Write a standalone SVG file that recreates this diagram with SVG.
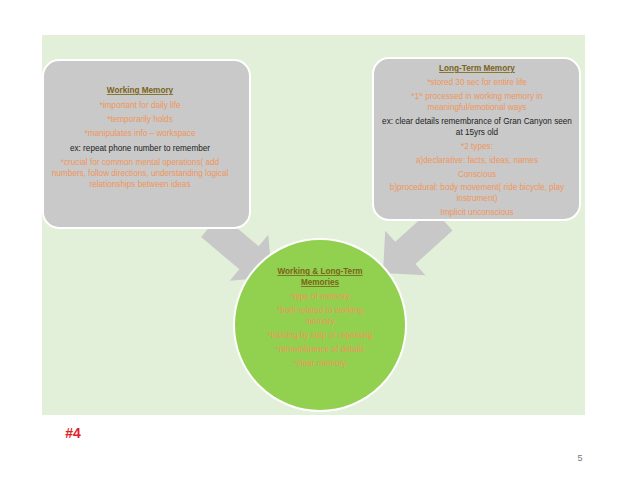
<svg xmlns="http://www.w3.org/2000/svg" width="638" height="478" viewBox="0 0 638 478">
<style>
text{font-family:"Liberation Sans",Arial,sans-serif;font-size:8.2px;text-anchor:middle}
.o{fill:#f0955a}.k{fill:#222}.t{fill:#7a6418;font-weight:bold;text-decoration:underline}
.box{fill:#c9c9c9;stroke:#fff;stroke-width:2}
.arr{fill:#c8c8c8}
</style>
<rect width="638" height="478" fill="#fff"/>
<rect x="42" y="35" width="543" height="380" fill="#e2efd9"/>
<g id="connectors">
<polygon class="arr" transform="translate(272,277) rotate(40)" points="-80,-15 -30,-15 -30,-30 0,0 -30,30 -30,15 -80,15"/>
<polygon class="arr" transform="translate(383,273) rotate(138)" points="-80,-15 -30,-15 -30,-30 0,0 -30,30 -30,15 -80,15"/>
</g>
<g id="working">
<rect class="box" x="43" y="60" width="207" height="168" rx="16"/>
<text class="t" x="140" y="93">Working Memory</text>
<text class="o" x="140" y="108">*important for daily life</text>
<text class="o" x="140" y="122">*temporarily holds</text>
<text class="o" x="140" y="136">*manipulates info – workspace</text>
<text class="k" x="140" y="151">ex: repeat phone number to remember</text>
<text class="o" x="140" y="165">*crucial for common mental operations( add</text>
<text class="o" x="140" y="176">numbers, follow directions, understanding logical</text>
<text class="o" x="140" y="187">relationships between ideas</text>
</g>
<g id="longterm">
<rect class="box" x="373" y="58" width="207" height="162" rx="16"/>
<text class="t" x="477" y="71">Long-Term Memory</text>
<text class="o" x="477" y="85">*stored 30 sec for entire life</text>
<text class="o" x="477" y="99">*1<tspan font-size="5" dy="-3">st</tspan><tspan dy="3"> processed in working memory in</tspan></text>
<text class="o" x="477" y="110">meaningful/emotional ways</text>
<text class="k" x="477" y="124">ex: clear details remembrance of Gran Canyon seen</text>
<text class="k" x="477" y="135">at 15yrs old</text>
<text class="o" x="477" y="149">*2 types:</text>
<text class="o" x="477" y="163">a)declarative: facts, ideas, names</text>
<text class="o" x="477" y="177">Conscious</text>
<text class="o" x="477" y="190">b)procedural: body movement( ride bicycle, play</text>
<text class="o" x="477" y="201">instrument)</text>
<text class="o" x="477" y="215">Implicit unconscious</text>
</g>
<g id="both">
<circle cx="320" cy="325" r="86" fill="#92d050" stroke="#fff" stroke-width="2"/>
<text class="t" x="320" y="274">Working &amp; Long-Term</text>
<text class="t" x="320" y="285">Memories</text>
<text class="o" x="320" y="299">*type of memory</text>
<text class="o" x="320" y="313">*both related to working</text>
<text class="o" x="320" y="324">memory</text>
<text class="o" x="320" y="338">*training by step or repeating</text>
<text class="o" x="320" y="352">*remembrance of details</text>
<text class="o" x="320" y="366">*clear memory</text>
</g>
<text x="73" y="438" style="font-size:14px;font-weight:bold;fill:#e0202a">#4</text>
<text x="580" y="461" style="font-size:9px;fill:#777">5</text>
</svg>
